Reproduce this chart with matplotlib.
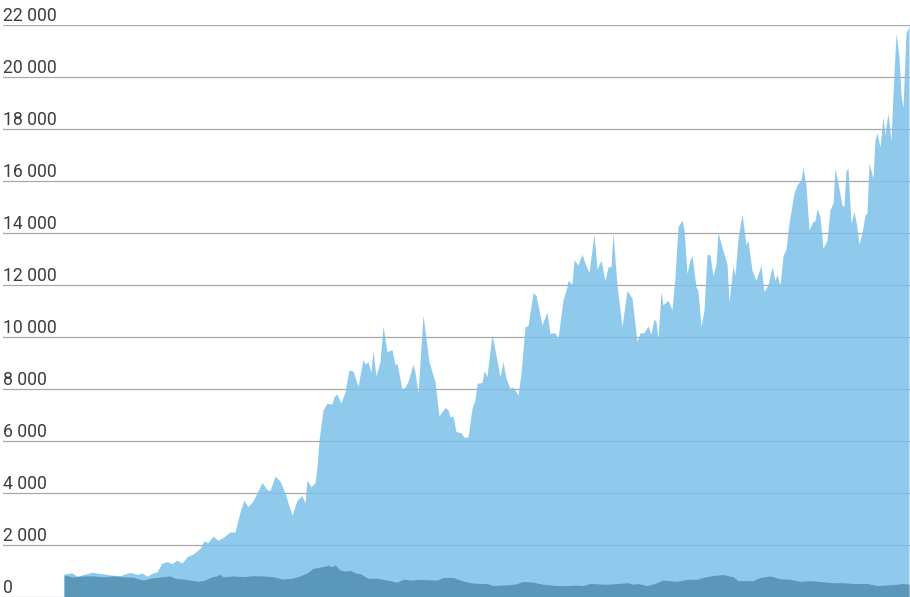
import matplotlib
matplotlib.use("Agg")
import matplotlib.pyplot as plt
import matplotlib.transforms as mtransforms

plt.rcParams['font.family'] = ['Roboto', 'DejaVu Sans']

# week index and value for the large (light) series
big_week = [0, 8, 13, 18, 28, 36, 46, 56, 66, 73, 78, 83, 88, 93, 98, 103, 108,
            113, 118, 123, 129, 136, 140, 144, 149, 154, 159, 166, 171, 176, 180,
            184, 189, 193, 198, 203, 206, 211, 216, 221, 228, 233, 238, 241, 243,
            247, 251, 253, 255, 259, 263, 268, 270, 273, 277, 281, 285, 289, 294,
            299, 301, 304, 307, 309, 312, 316, 319, 323, 328, 331, 333, 338, 341,
            344, 349, 351, 354, 359, 365, 371, 375, 381, 384, 386, 389, 392, 397,
            400, 404, 408, 411, 413, 418, 420, 423, 428, 431, 436, 439, 442, 446,
            449, 454, 457, 461, 464, 469, 472, 478, 483, 486, 491, 494, 499, 503,
            504, 508, 510, 514, 518, 521, 525, 528, 530, 533, 537, 541, 544, 547,
            549, 553, 558, 563, 568, 573, 576, 580, 584, 587, 590, 592, 594, 597,
            599, 604, 608, 611, 614, 618, 620, 623, 626, 628, 632, 634, 637, 640,
            643, 646, 649, 652, 654, 658, 663, 665, 669, 671, 674, 678, 682, 684,
            688, 692, 697, 700, 704, 708, 711, 713, 716, 719, 722, 725, 730, 733,
            737, 739, 742, 745, 749, 751, 753, 756, 759, 763, 766, 769, 771, 774,
            778, 780, 782, 784, 787, 790, 793, 795, 798, 801, 803, 805, 809, 811,
            813, 816, 819, 821, 824, 827, 829, 832, 835, 837, 839, 842, 845]
big_val = [880, 930, 800, 850, 950, 910, 850, 820, 950, 870, 920, 800, 910, 970,
           1300, 1360, 1280, 1420, 1300, 1550, 1650, 1870, 2160, 2090, 2340, 2180,
           2290, 2500, 2500, 3270, 3720, 3470, 3700, 4000, 4400, 4130, 4100, 4650,
           4460, 4000, 3140, 3720, 3900, 3620, 4500, 4240, 4400, 5010, 6030, 7190,
           7450, 7420, 7700, 7810, 7450, 7900, 8730, 8690, 8110, 9140, 8960, 9050,
           8660, 9480, 8500, 9050, 10420, 9440, 9510, 8930, 9000, 7990, 8070, 8290,
           8960, 8660, 7820, 10850, 9050, 8290, 6960, 7290, 7200, 6930, 6960, 6360,
           6320, 6150, 6150, 7260, 7580, 8220, 8250, 8700, 8490, 10110, 9500, 8480,
           9050, 8420, 8030, 8070, 7770, 8600, 10400, 10430, 11700, 11610, 10460,
           10970, 10140, 10160, 9950, 11420, 11930, 12180, 12030, 12980, 12770,
           13190, 12840, 12480, 13350, 13960, 12610, 12960, 12160, 12700, 12700,
           14010, 12000, 10400, 11790, 11500, 9820, 10160, 10160, 10430, 10110,
           10690, 10600, 9950, 11740, 11240, 11410, 11050, 12320, 14240, 14500,
           14160, 12450, 12960, 13140, 11930, 11770, 10400, 11040, 13190, 13150,
           12370, 12810, 14010, 13460, 12810, 11360, 12750, 12370, 13800, 14730,
           13560, 13720, 12560, 12180, 12750, 11740, 12000, 12690, 12180, 12410,
           12000, 13120, 13380, 14380, 15530, 15850, 16040, 16530, 15820, 14120,
           14440, 14480, 14920, 14630, 13410, 13720, 14890, 15150, 16490, 15910,
           15080, 15020, 16400, 16490, 14380, 14830, 14220, 13580, 14000, 14700,
           14760, 16700, 16100, 17580, 17860, 17320, 18450, 17770, 18630, 17550,
           19370, 21680, 20780, 19310, 18800, 21680, 21960]

# week index and value for the small (dark) series
small_week = [0, 9, 19, 29, 39, 49, 59, 69, 79, 89, 99, 106, 111, 119, 128, 134,
              141, 148, 153, 156, 159, 169, 179, 189, 199, 209, 219, 228, 236, 243,
              249, 259, 264, 268, 271, 276, 281, 286, 291, 296, 304, 314, 323, 333,
              339, 349, 354, 373, 379, 389, 396, 406, 416, 423, 429, 439, 451, 459,
              469, 479, 493, 503, 513, 519, 526, 536, 543, 553, 564, 569, 574, 583,
              591, 599, 606, 613, 623, 633, 639, 649, 659, 669, 674, 689, 696, 706,
              716, 726, 736, 746, 756, 769, 779, 789, 803, 813, 823, 833, 839, 845]
small_val = [850, 770, 810, 810, 780, 810, 780, 760, 650, 740, 780, 810, 720, 690,
             640, 600, 650, 780, 810, 880, 770, 810, 780, 820, 810, 780, 690, 720,
             810, 930, 1100, 1170, 1220, 1170, 1240, 1040, 990, 1030, 930, 900, 720,
             720, 650, 570, 680, 650, 680, 650, 750, 750, 650, 550, 520, 520, 440,
             460, 490, 600, 570, 490, 440, 440, 460, 440, 520, 500, 490, 520, 550,
             490, 520, 440, 520, 650, 630, 600, 680, 680, 750, 830, 860, 780, 630,
             630, 750, 810, 700, 680, 600, 630, 600, 550, 550, 520, 520, 440, 460,
             490, 520, 490]

y_ticks = [0, 2000, 4000, 6000, 8000, 10000, 12000, 14000, 16000, 18000, 20000, 22000]
y_labels = ['{:,}'.format(v).replace(',', ' ') for v in y_ticks]

fig = plt.figure(figsize=(9.1, 5.97), dpi=100)
ax = fig.add_axes([3 / 910, 0, 907 / 910, 572 / 597])

ax.fill_between(big_week, 0, big_val, color='#7cc1ea', alpha=0.85, lw=0, zorder=2)
ax.fill_between(small_week, 0, small_val, color='#5b97b9', lw=0, zorder=3)

ax.set_xlim(-61, 846)
ax.set_ylim(0, 22000)
for v in y_ticks:
    ax.axhline(v, color='#a8a8a8', lw=0.9, zorder=1)

trans = mtransforms.blended_transform_factory(ax.transAxes, ax.transData)
offset = mtransforms.offset_copy(trans, fig=fig, x=0, y=0, units='dots')
for v, lab in zip(y_ticks, y_labels):
    ax.text(0, v, lab, transform=offset, ha='left', va='bottom',
            fontsize=12.7, color='#3d3d3d', clip_on=False)

ax.set_xticks([])
ax.set_yticks([])
for s in ax.spines.values():
    s.set_visible(False)

fig.savefig('out.png', dpi=100)
